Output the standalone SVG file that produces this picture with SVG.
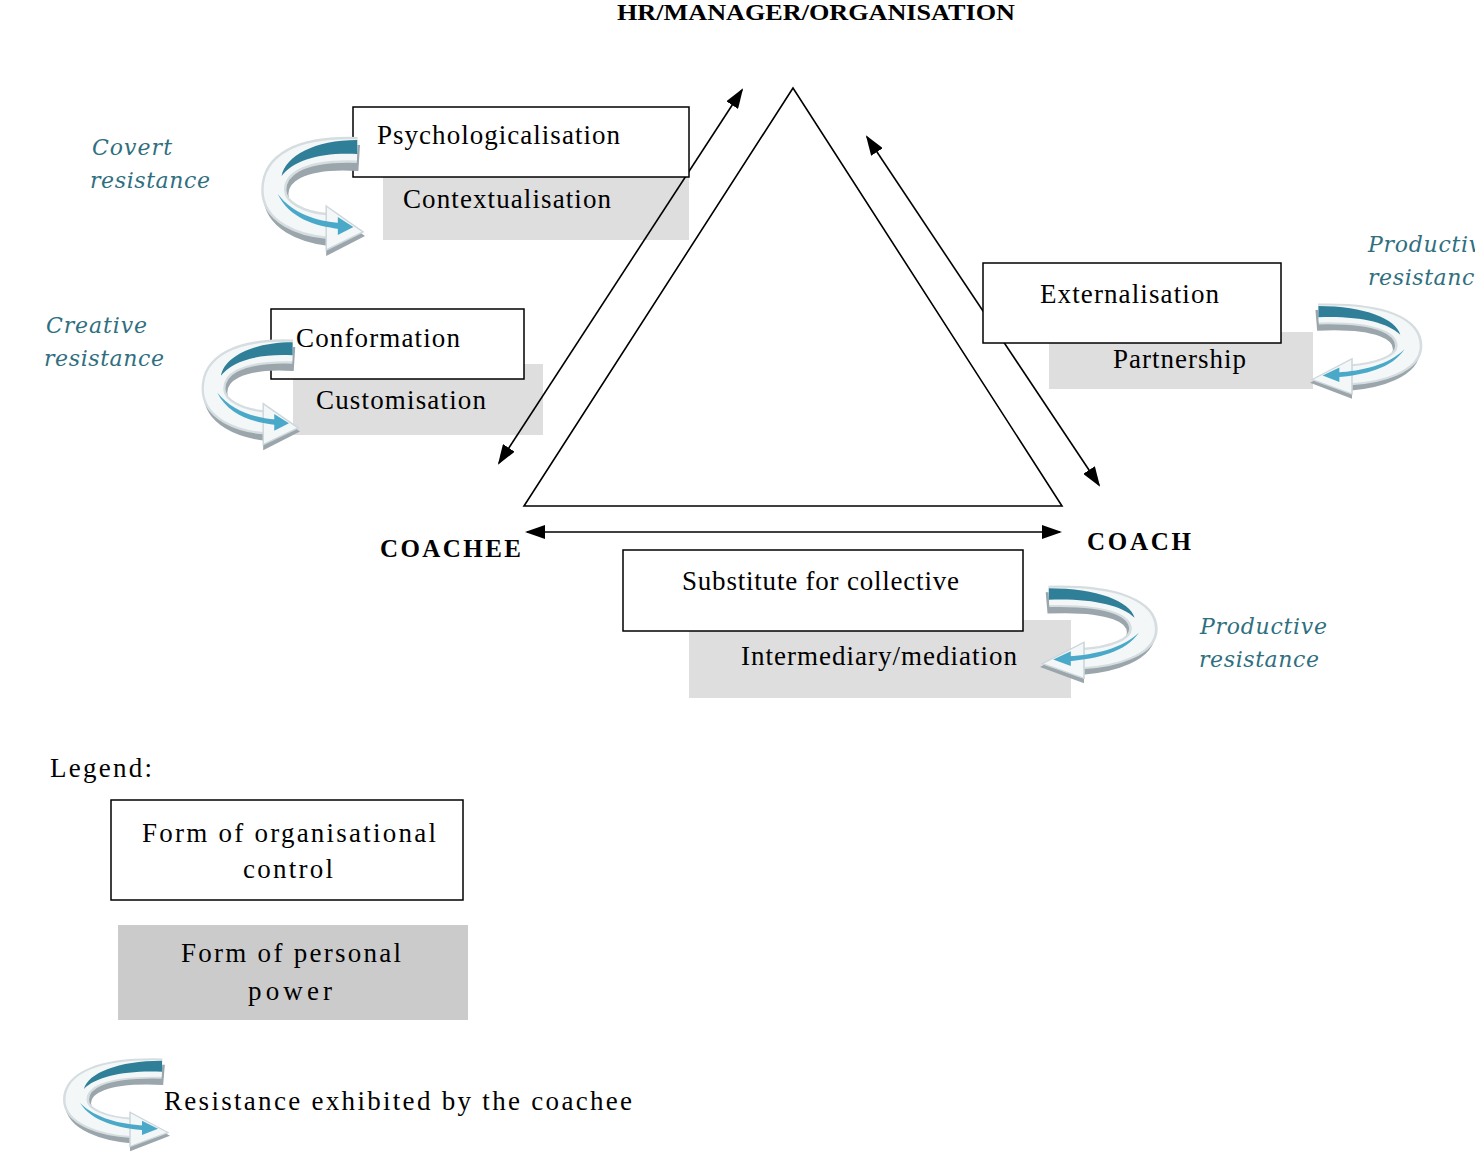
<svg xmlns="http://www.w3.org/2000/svg" width="1475" height="1152" viewBox="0 0 1475 1152">
<style>
.t{font-family:"Liberation Serif","Times New Roman",serif;font-size:27px;fill:#000}
.b{font-family:"Liberation Serif","Times New Roman",serif;font-weight:bold;fill:#000}
.i{font-family:"DejaVu Serif",serif;font-style:italic;font-size:22px;fill:#2f6f80}
.wbox{fill:#fff;stroke:#000;stroke-width:1.5}
.gbox{fill:#dedede}
.ln{stroke:#000;stroke-width:1.6;fill:none}
</style>
<defs>
<marker id="ah" viewBox="0 0 20 14" refX="18" refY="7" markerWidth="20" markerHeight="14" markerUnits="userSpaceOnUse" orient="auto-start-reverse">
<path d="M0,0 L20,7 L0,14 Z" fill="#000"/>
</marker>
<g id="curl">
<path d="M92,24 C30,20 6,38 6,60 C6,84 34,96 62,99" fill="none" stroke="#9aa6ab" stroke-width="26" transform="translate(2,4)"/>
<polygon points="60,78 100,106 60,126" fill="#9aa6ab"/>
<path d="M92,20 C30,18 6,36 6,60 C6,82 34,94 62,96" fill="none" stroke="#d5dde0" stroke-width="26"/>
<path d="M92,20 C30,18 6,36 6,60 C6,82 34,94 62,96" fill="none" stroke="#f4f7f8" stroke-width="21"/>
<polygon points="60,76 98,102 60,120" fill="#f4f7f8" stroke="#cdd6da" stroke-width="1.5"/>
<path d="M92,10 L92,24 C55,22 26,30 14,46 C18,26 48,10 92,10 Z" fill="#2f7f98"/>
<path d="M10,64 C22,88 48,96 74,99 L74,93 C50,91 26,84 10,64 Z" fill="#4aa9c9"/>
<polygon points="72,87 88,97 72,105" fill="#4aa9c9"/>
</g>
</defs>

<text class="b" x="617" y="20" font-size="24" textLength="398" lengthAdjust="spacingAndGlyphs">HR/MANAGER/ORGANISATION</text>

<g id="grey-boxes">
<g id="n-contextualisation"><rect class="gbox" x="383" y="177" width="306" height="63"/><text class="t" x="403" y="208" textLength="208">Contextualisation</text></g>
<g id="n-customisation"><rect class="gbox" x="293" y="364" width="250" height="71"/><text class="t" x="316" y="409" textLength="170">Customisation</text></g>
<g id="n-partnership"><rect class="gbox" x="1049" y="332" width="264" height="57"/><text class="t" x="1113" y="368" textLength="133">Partnership</text></g>
<g id="n-intermediary"><rect class="gbox" x="689" y="620" width="382" height="78"/><text class="t" x="741" y="665" textLength="276">Intermediary/mediation</text></g>
</g>

<g id="connectors">
<polygon id="triangle" points="793,88 524,506 1062,506" class="ln"/>
<line class="ln" x1="499" y1="463" x2="742" y2="90" marker-start="url(#ah)" marker-end="url(#ah)"/>
<line class="ln" x1="867" y1="137" x2="1099" y2="485" marker-start="url(#ah)" marker-end="url(#ah)"/>
<line class="ln" x1="527" y1="532" x2="1060" y2="532" marker-start="url(#ah)" marker-end="url(#ah)"/>
</g>

<g id="white-boxes">
<g id="n-psychologicalisation"><rect class="wbox" x="353" y="107" width="336" height="70"/><text class="t" x="377" y="144" textLength="243">Psychologicalisation</text></g>
<g id="n-conformation"><rect class="wbox" x="271" y="309" width="253" height="70"/><text class="t" x="296" y="347" textLength="164">Conformation</text></g>
<g id="n-externalisation"><rect class="wbox" x="983" y="263" width="298" height="80"/><text class="t" x="1040" y="303" textLength="179">Externalisation</text></g>
<g id="n-substitute"><rect class="wbox" x="623" y="550" width="400" height="81"/><text class="t" x="682" y="590" textLength="277">Substitute for collective</text></g>
</g>

<g id="n-coachee"><text class="b" x="380" y="557" font-size="25" textLength="141">COACHEE</text></g>
<g id="n-coach"><text class="b" x="1087" y="550" font-size="25" textLength="104">COACH</text></g>

<g id="resistance-arrows">
<use href="#curl" transform="translate(268,130) scale(0.97,1.0)"/>
<use href="#curl" transform="translate(208,333) scale(0.92,0.93)"/>
<use href="#curl" transform="translate(1415,298) scale(-1.05,0.8)"/>
<use href="#curl" transform="translate(1150,580) scale(-1.1,0.82)"/>
<use href="#curl" transform="translate(70,1053) scale(1.0,0.78)"/>
</g>

<g id="resistance-labels">
<text class="i" x="92" y="155" textLength="80">Covert</text>
<text class="i" x="90" y="188" textLength="120">resistance</text>
<text class="i" x="46" y="333" textLength="101">Creative</text>
<text class="i" x="44" y="366" textLength="120">resistance</text>
<text class="i" x="1368" y="252" textLength="127">Productive</text>
<text class="i" x="1368" y="285" textLength="120">resistance</text>
<text class="i" x="1200" y="634" textLength="127">Productive</text>
<text class="i" x="1199" y="667" textLength="120">resistance</text>
</g>

<g id="legend">
<text class="t" x="50" y="777" font-size="29" textLength="102">Legend:</text>
<g id="legend-control"><rect class="wbox" x="111" y="800" width="352" height="100"/>
<text class="t" x="142" y="842" font-size="29" textLength="294">Form of organisational</text>
<text class="t" x="243" y="878" font-size="29" textLength="90">control</text></g>
<g id="legend-power"><rect x="118" y="925" width="350" height="95" fill="#cbcbcb"/>
<text class="t" x="181" y="962" font-size="29" textLength="220">Form of personal</text>
<text class="t" x="248" y="1000" font-size="29" textLength="84">power</text></g>
<g id="legend-resistance"><text class="t" x="164" y="1110" font-size="29" textLength="468">Resistance exhibited by the coachee</text></g>
</g>
</svg>
